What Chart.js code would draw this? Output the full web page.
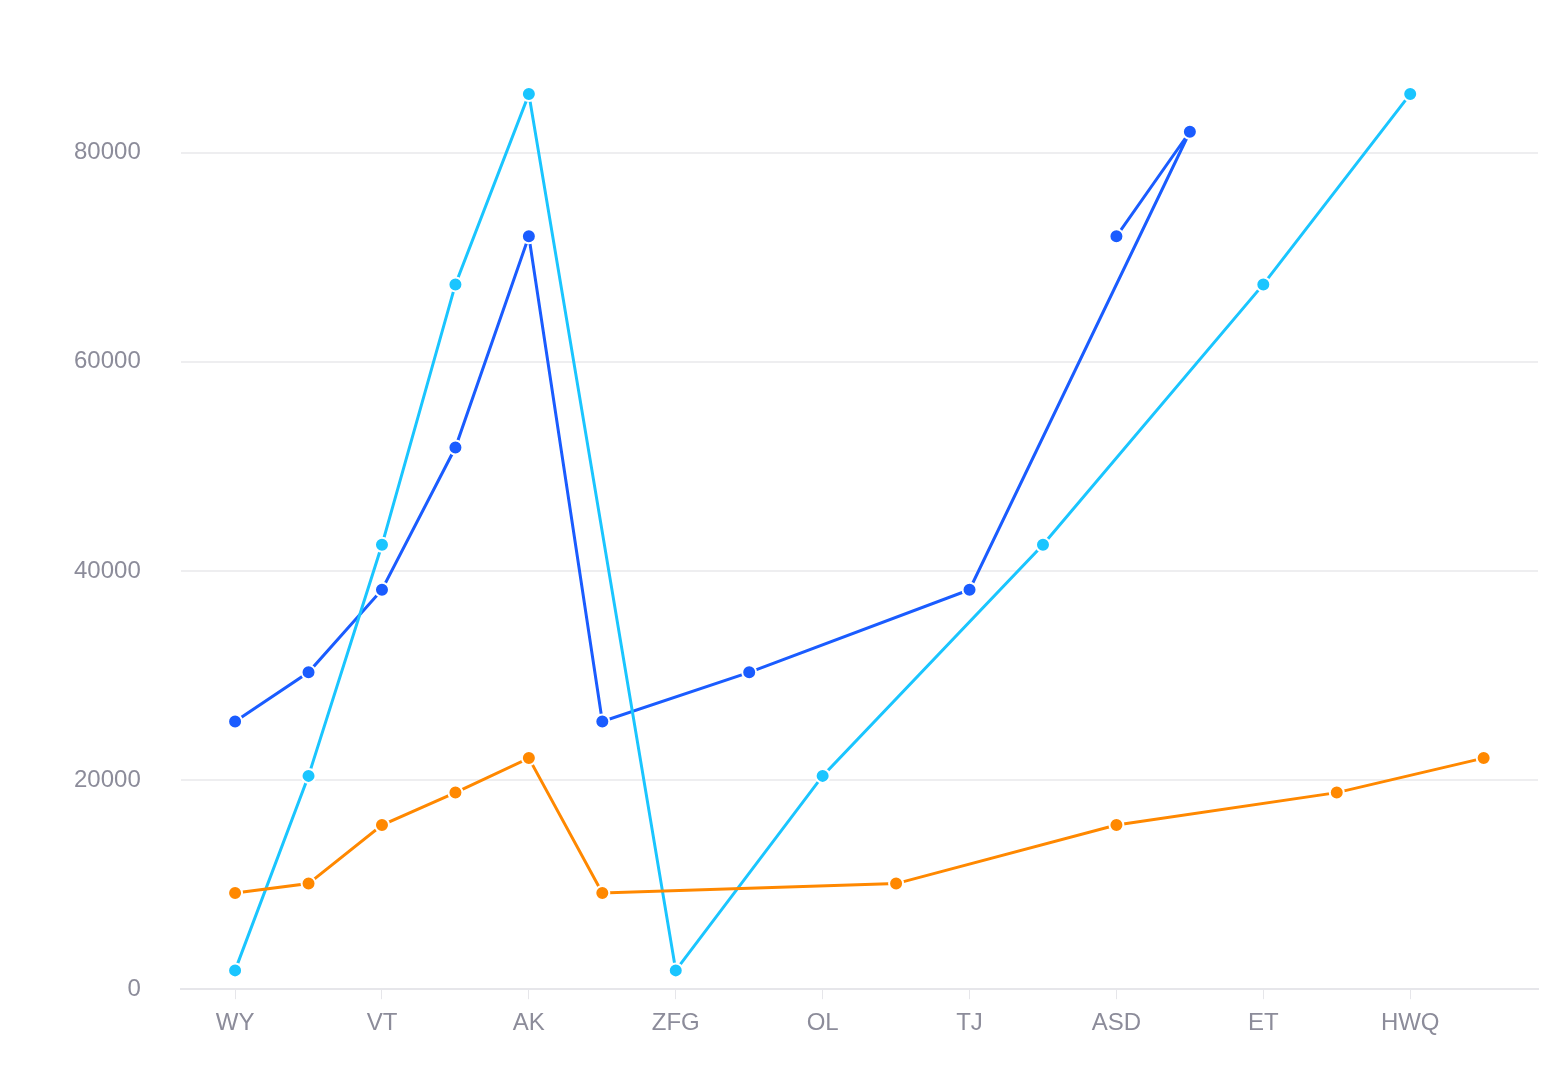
<!DOCTYPE html>
<html>
<head>
<meta charset="utf-8">
<script src="https://cdn.jsdelivr.net/npm/chart.js@4/dist/chart.umd.min.js"></script>
<style>
  html, body { margin: 0; padding: 0; background: #fff; }
  #wrap { width: 1556px; height: 1082px; }
</style>
</head>
<body>
<div id="wrap"><canvas id="chart"></canvas></div>
<script>
const categories = ['WY', 'VT', 'AK', 'ZFG', 'OL', 'TJ', 'ASD', 'ET', 'HWQ'];

const darkX = [0, 0.5, 1, 1.5, 2, 2.5, 3.5, 5, 6.5, 6];
const darkY = [25600, 30300, 38200, 51800, 72000, 25600, 30300, 38200, 82000, 72000];

const cyanX = [0, 0.5, 1, 1.5, 2, 3, 4, 5.5, 7, 8];
const cyanY = [1800, 20400, 42500, 67400, 85600, 1800, 20400, 42500, 67400, 85600];

const orangeX = [0, 0.5, 1, 1.5, 2, 2.5, 4.5, 6, 7.5, 8.5];
const orangeY = [9200, 10100, 15700, 18800, 22100, 9200, 10100, 15700, 18800, 22100];

const yTicks = [0, 20000, 40000, 60000, 80000];

function pts(xs, ys) { return xs.map((x, i) => ({ x: x, y: ys[i] })); }

function series(label, xs, ys, color) {
    return {
        label: label, data: pts(xs, ys), borderColor: color, backgroundColor: color,
        borderWidth: 3, pointRadius: 7, pointHoverRadius: 7,
        pointBorderColor: '#fff', pointBorderWidth: 2, tension: 0, showLine: true
    };
}

new Chart(document.getElementById('chart').getContext('2d'), {
    type: 'scatter',
    data: {
        datasets: [
            series('orange', orangeX, orangeY, '#ff8800'),
            series('cyan', cyanX, cyanY, '#1ac5ff'),
            series('dark', darkX, darkY, '#1a5cff')
        ]
    },
    options: {
        responsive: true,
        maintainAspectRatio: false,
        animation: false,
        layout: { padding: { left: 34, right: 18, top: 69, bottom: 34 } },
        plugins: { legend: { display: false }, tooltip: { enabled: false } },
        scales: {
            x: {
                type: 'linear', min: -0.37, max: 8.87,
                afterBuildTicks: axis => { axis.ticks = categories.map((c, i) => ({ value: i })); },
                ticks: { callback: v => categories[v], color: '#8c8c9a', font: { size: 24, family: 'Liberation Sans' }, padding: 10, maxRotation: 0 },
                grid: { drawOnChartArea: false, tickLength: 10, color: '#e6e6ea', tickColor: '#e6e6ea' },
                border: { color: '#e6e6ea', width: 2 }
            },
            y: {
                min: 0, max: 88000,
                afterBuildTicks: axis => { axis.ticks = yTicks.map(v => ({ value: v })); },
                ticks: { callback: v => String(v), color: '#8c8c9a', font: { size: 24, family: 'Liberation Sans' }, padding: 40 },
                grid: { color: '#eeeef0', lineWidth: 2, drawTicks: false },
                border: { display: false }
            }
        }
    }
});
</script>
</body>
</html>
